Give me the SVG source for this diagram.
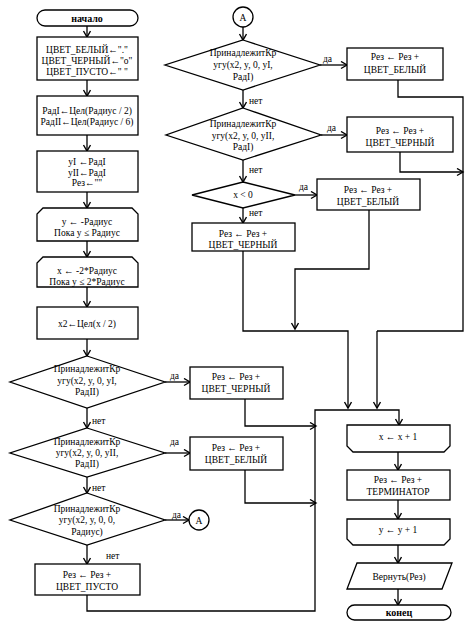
<svg xmlns="http://www.w3.org/2000/svg" width="474" height="630" viewBox="0 0 474 630">
<style>
.s{fill:#fff;stroke:#000;stroke-width:1.3}
.c{fill:none;stroke:#000;stroke-width:1.3;marker-end:url(#ah)}
.l{fill:none;stroke:#000;stroke-width:1.3}
text{font-family:"Liberation Serif","Times New Roman",serif;font-size:9.5px;fill:#000}
.m{text-anchor:middle}
.b{font-weight:bold;font-size:10px}
</style>
<defs>
<marker id="ah" markerUnits="userSpaceOnUse" markerWidth="10" markerHeight="10" refX="7" refY="4" orient="auto">
<path d="M1,0.5 L7,4 L1,7.5" fill="none" stroke="#000" stroke-width="1.4"/>
</marker>
</defs>
<rect width="474" height="630" fill="#fff"/>
<g id="connectors">
<path class="c" d="M87,26 V37"/>
<path class="c" d="M87,80 V96"/>
<path class="c" d="M87,135 V151"/>
<path class="c" d="M87,192 V208"/>
<path class="c" d="M87,241 V257"/>
<path class="c" d="M87,287 V307"/>
<path class="c" d="M87,339 V356"/>
<path class="c" d="M165,382 H190"/>
<path class="c" d="M245,399 V426 H316"/>
<path class="c" d="M87,408 V428"/>
<path class="c" d="M165,453 H190"/>
<path class="c" d="M245,470 V503 H316"/>
<path class="c" d="M87,477 V493"/>
<path class="c" d="M165,520 H189"/>
<path class="c" d="M87,545 V564"/>
<path class="c" d="M87,595 V611 H315 V410 H399 V425"/>
<path class="c" d="M243,27 V40"/>
<path class="c" d="M320,65 H347"/>
<path class="l" d="M398,80 V97 H463 V331 H377"/>
<path class="c" d="M377,331 V408"/>
<path class="c" d="M243,90 V108"/>
<path class="c" d="M321,135 H347"/>
<path class="c" d="M400,152 V172 H463"/>
<path class="c" d="M243,160 V182"/>
<path class="c" d="M295,195 H317"/>
<path class="c" d="M369,210 V269 H295 V329"/>
<path class="c" d="M243,208 V223"/>
<path class="c" d="M243,251 V331 H348 V408"/>
<path class="c" d="M398,452 V470"/>
<path class="c" d="M398,500 V519"/>
<path class="c" d="M398,545 V563"/>
<path class="c" d="M398,589 V605"/>
<text x="170" y="379">да</text>
<text x="92" y="424">нет</text>
<text x="170" y="445">да</text>
<text x="92" y="491">нет</text>
<text x="172" y="518">да</text>
<text x="106" y="559">нет</text>
<text x="249" y="104">нет</text>
<text x="323" y="62">да</text>
<text x="327" y="131">да</text>
<text x="249" y="173">нет</text>
<text x="299" y="190">да</text>
<text x="249" y="216">нет</text>
</g>
<g id="start"><rect class="s" x="37" y="10" width="101" height="16" rx="8"/><text class="m b" x="87" y="22">начало</text></g>
<g id="init1"><rect class="s" x="37" y="37" width="101" height="43"/>
<text class="m" x="87" y="53">ЦВЕТ_БЕЛЫЙ←"."</text><text class="m" x="87" y="64">ЦВЕТ_ЧЕРНЫЙ←"o"</text><text class="m" x="87" y="75">ЦВЕТ_ПУСТО←" "</text></g>
<g id="init2"><rect class="s" x="37" y="96" width="101" height="39"/>
<text class="m" x="87" y="114">РадI←Цел(Радиус / 2)</text><text class="m" x="87" y="125">РадII←Цел(Радиус / 6)</text></g>
<g id="init3"><rect class="s" x="37" y="151" width="101" height="41"/>
<text class="m" x="87" y="165">yI ←РадI</text><text class="m" x="87" y="176">yII←РадI</text><text class="m" x="87" y="186">Рез←""</text></g>
<g id="loopy"><path class="s" d="M43,208 H132 L138,214 V241 H37 V214 Z"/>
<text class="m" x="87" y="225">y ← -Радиус</text><text class="m" x="87" y="236">Пока y ≤ Радиус</text></g>
<g id="loopx"><path class="s" d="M43,257 H132 L138,263 V287 H37 V263 Z"/>
<text class="m" x="87" y="274">x ← -2*Радиус</text><text class="m" x="87" y="285">Пока y ≤ 2*Радиус</text></g>
<g id="x2"><rect class="s" x="37" y="307" width="101" height="32"/><text class="m" x="87" y="327">x2←Цел(x / 2)</text></g>
<g id="d1"><path class="s" d="M87,356 L165,382 L87,408 L10,382 Z"/>
<text class="m" x="87" y="372">ПринадлежитКр</text><text class="m" x="87" y="384">угу(x2, y, 0, yI,</text><text class="m" x="87" y="395">РадII)</text></g>
<g id="b1"><rect class="s" x="190" y="367" width="93" height="32"/>
<text class="m" x="236" y="380">Рез ← Рез +</text><text class="m" x="236" y="392">ЦВЕТ_ЧЕРНЫЙ</text></g>
<g id="d2"><path class="s" d="M87,428 L165,453 L87,477 L10,453 Z"/>
<text class="m" x="87" y="445">ПринадлежитКр</text><text class="m" x="87" y="456">угу(x2, y, 0, yII,</text><text class="m" x="87" y="467">РадII)</text></g>
<g id="b2"><rect class="s" x="190" y="437" width="93" height="33"/>
<text class="m" x="236" y="451">Рез ← Рез +</text><text class="m" x="236" y="463">ЦВЕТ_БЕЛЫЙ</text></g>
<g id="d3"><path class="s" d="M87,493 L165,520 L87,545 L10,520 Z"/>
<text class="m" x="87" y="512">ПринадлежитКр</text><text class="m" x="87" y="523">угу(x2, y, 0, 0,</text><text class="m" x="87" y="535">Радиус)</text></g>
<g id="connA1"><circle class="s" cx="199" cy="520" r="10"/><text class="m" x="199" y="524">A</text></g>
<g id="b3"><rect class="s" x="35" y="564" width="105" height="31"/>
<text class="m" x="87" y="578">Рез ← Рез +</text><text class="m" x="87" y="590">ЦВЕТ_ПУСТО</text></g>
<g id="connA2"><circle class="s" cx="243" cy="17" r="10"/><text class="m" x="243" y="21">A</text></g>
<g id="d4"><path class="s" d="M243,40 L320,65 L243,90 L165,65 Z"/>
<text class="m" x="243" y="56">ПринадлежитКр</text><text class="m" x="243" y="68">угу(x2, y, 0, yI,</text><text class="m" x="243" y="80">РадI)</text></g>
<g id="b4"><rect class="s" x="347" y="48" width="96" height="32"/>
<text class="m" x="395" y="60">Рез ← Рез +</text><text class="m" x="395" y="73">ЦВЕТ_БЕЛЫЙ</text></g>
<g id="d5"><path class="s" d="M243,108 L321,135 L243,160 L166,135 Z"/>
<text class="m" x="243" y="127">ПринадлежитКр</text><text class="m" x="243" y="139">угу(x2, y, 0, yII,</text><text class="m" x="243" y="150">РадI)</text></g>
<g id="b5"><rect class="s" x="347" y="117" width="106" height="35"/>
<text class="m" x="400" y="134">Рез ← Рез +</text><text class="m" x="400" y="146">ЦВЕТ_ЧЕРНЫЙ</text></g>
<g id="d6"><path class="s" d="M243,182 L295,195 L243,208 L192,195 Z"/><text class="m" x="243" y="198">x &lt; 0</text></g>
<g id="b6"><rect class="s" x="317" y="179" width="103" height="31"/>
<text class="m" x="368" y="193">Рез ← Рез +</text><text class="m" x="368" y="205">ЦВЕТ_БЕЛЫЙ</text></g>
<g id="b7"><rect class="s" x="192" y="223" width="103" height="28"/>
<text class="m" x="243" y="237">Рез ← Рез +</text><text class="m" x="243" y="248">ЦВЕТ_ЧЕРНЫЙ</text></g>
<g id="incx"><path class="s" d="M347,425 H450 V446 L444,452 H353 L347,446 Z"/><text class="m" x="398" y="440">x ← x + 1</text></g>
<g id="term"><rect class="s" x="347" y="470" width="103" height="30"/>
<text class="m" x="398" y="483">Рез ← Рез +</text><text class="m" x="398" y="495">ТЕРМИНАТОР</text></g>
<g id="incy"><path class="s" d="M347,519 H450 V539 L444,545 H353 L347,539 Z"/><text class="m" x="398" y="533">y ← y + 1</text></g>
<g id="ret"><path class="s" d="M357,563 H452 L442,589 H347 Z"/><text class="m" x="399" y="580">Вернуть(Рез)</text></g>
<g id="end"><rect class="s" x="347" y="605" width="104" height="15" rx="7.5"/><text class="m b" x="399" y="616">конец</text></g>
</svg>
